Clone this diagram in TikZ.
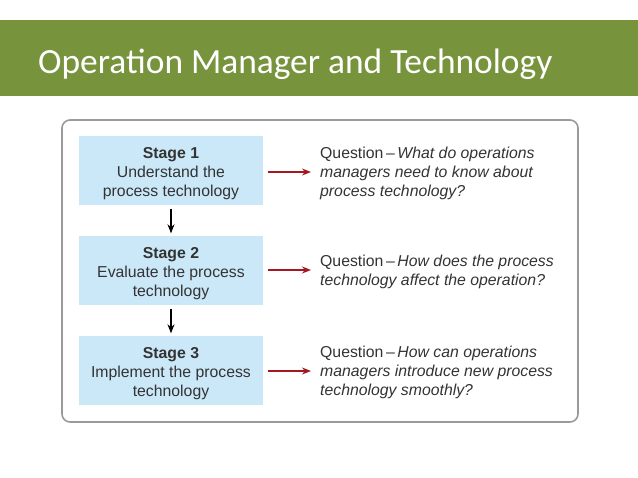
\documentclass[tikz,border=0pt]{standalone}
\usepackage{fontspec}
\setmainfont{Liberation Sans}
\newfontfamily\titlefont{Carlito}
\usetikzlibrary{arrows.meta}
\definecolor{banner}{HTML}{77933C}
\definecolor{stagefill}{HTML}{CBE8F8}
\definecolor{txt}{HTML}{333333}
\definecolor{arrred}{HTML}{A51822}
\definecolor{frame}{HTML}{9A9A9A}
\tikzset{
  stagebox/.style={fill=stagefill, draw=none, minimum width=184pt, minimum height=69pt,
    align=center, text=txt, font=\fontsize{15.8}{19}\selectfont, inner sep=0pt},
  stagetext/.style={align=center, text=txt, font=\fontsize{15.8}{19}\selectfont, inner sep=0pt},
  qtext/.style={anchor=west, align=left, text=txt, font=\fontsize{15.8}{19}\selectfont, inner sep=0pt},
  downarr/.style={draw=black, line width=1.1pt, -{Stealth[length=9pt,width=7pt]}, shorten <=3pt, shorten >=3pt},
  redarr/.style={draw=arrred, line width=1.3pt, -{Stealth[length=9pt,width=7pt]}},
}
\begin{document}
\begin{tikzpicture}[x=1pt,y=-1pt]
\useasboundingbox (0,0) rectangle (638,478);
\fill[white] (0,0) rectangle (638,478);
\fill[banner] (0,20) rectangle (638,96);
\node[anchor=base west, text=white, font=\titlefont\fontsize{35.4}{38}\selectfont, inner sep=0pt] (title) at (38,74) {Operation Manager and Technology};
\draw[frame, line width=1.6pt, rounded corners=8pt] (62,120) rectangle (578,422);
\node[stagebox] (s1) at (171,171) {};
\node[stagebox] (s2) at (171,271) {};
\node[stagebox] (s3) at (171,371) {};
\node[stagetext] (t1) at (171,173.5) {\textbf{Stage 1}\\Understand the\\process technology};
\node[stagetext] (t2) at (171,273.5) {\textbf{Stage 2}\\Evaluate the process\\technology};
\node[stagetext] (t3) at (171,373.5) {\textbf{Stage 3}\\Implement the process\\technology};
\draw[downarr] (s1) -- (s2);
\draw[downarr] (s2) -- (s3);
\node[qtext] (q1) at (320,173.5) {Question\,–\,\textit{What do operations}\\\textit{managers need to know about}\\\textit{process technology?}};
\node[qtext] (q2) at (320,271.5) {Question\,–\,\textit{How does the process}\\\textit{technology affect the operation?}};
\node[qtext] (q3) at (320,372.5) {Question\,–\,\textit{How can operations}\\\textit{managers introduce new process}\\\textit{technology smoothly?}};
\coordinate (a1) at (268,172);
\coordinate (a2) at (268,270);
\coordinate (a3) at (268,371);
\draw[redarr] (a1) -- ([xshift=-9pt]a1 -| q1.west);
\draw[redarr] (a2) -- ([xshift=-9pt]a2 -| q2.west);
\draw[redarr] (a3) -- ([xshift=-9pt]a3 -| q3.west);
\end{tikzpicture}
\end{document}
